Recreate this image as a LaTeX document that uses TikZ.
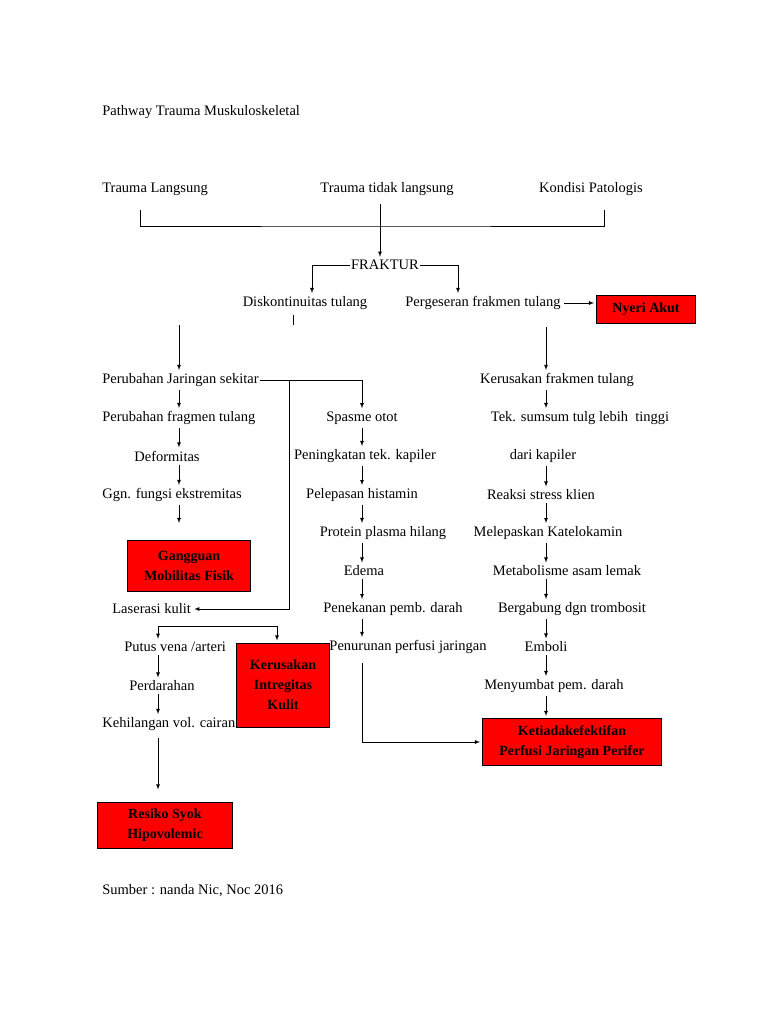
\documentclass[tikz,border=0pt]{standalone}
\usepackage{fontspec}
\setmainfont{Liberation Serif}
\usetikzlibrary{positioning}
\tikzset{every picture/.style={line width=0.75pt}}
\tikzset{
  txt/.style={inner sep=1pt, font=\fontsize{14.5}{16}\selectfont},
  dx/.style={fill=red, draw=black, line width=1pt, align=center, inner sep=2pt,
    font=\fontsize{14}{20}\selectfont\bfseries},
  arr/.style={-latex, shorten >=2pt, shorten <=2pt},
}
\begin{document}
\begin{tikzpicture}[x=1pt,y=-1pt]
\useasboundingbox (0,0) rectangle (768,1024);

% titles
\node[txt, anchor=west] (title) at (101,112) {Pathway Trauma Muskuloskeletal};
\node[txt, anchor=west] (tl) at (101,189) {Trauma Langsung};
\node[txt] (ttl) at (387,189) {Trauma tidak langsung};
\node[txt] (kp) at (591,189) {Kondisi Patologis};
\node[txt] (frak) at (385,265) {FRAKTUR};
\node[txt] (disk) at (305,303) {Diskontinuitas tulang};
\node[txt] (perg) at (483,303) {Pergeseran frakmen tulang};
\node[dx, minimum width=99, minimum height=28] (nyeri) at (646,309) {Nyeri Akut};

% left column
\node[txt, anchor=west] (pjs) at (101,380) {Perubahan Jaringan sekitar};
\node[txt, anchor=west] (pft) at (101,418) {Perubahan fragmen tulang};
\node[txt] (def) at (167,456) {Deformitas};
\node[txt, anchor=west] (ggn) at (101,495) {Ggn. fungsi ekstremitas};
\node[dx, minimum width=123, minimum height=51] (gmf) at (189,566) {Gangguan\\Mobilitas Fisik};
\node[txt, anchor=west] (las) at (111,609) {Laserasi kulit};
\node[txt, anchor=west] (putus) at (123,647) {Putus vena /arteri};
\node[txt] (perd) at (162,686) {Perdarahan};
\node[txt, anchor=west] (kvc) at (101,724) {Kehilangan vol. cairan};
\node[dx, minimum width=93, minimum height=84] (kik) at (283,685) {Kerusakan\\Intregitas\\Kulit};
\node[dx, minimum width=135, minimum height=46] (rsh) at (165,825) {Resiko Syok\\Hipovolemic};

% middle column
\node[txt] (spa) at (362,418) {Spasme otot};
\node[txt] (ptk) at (365,456) {Peningkatan tek. kapiler};
\node[txt] (phi) at (362,495) {Pelepasan histamin};
\node[txt] (pph) at (383,533) {Protein plasma hilang};
\node[txt] (ede) at (364,571) {Edema};
\node[txt] (ppd) at (393,609) {Penekanan pemb. darah};
\node[txt] (ppj) at (408,647) {Penurunan perfusi jaringan};

% right column
\node[txt] (kft) at (557,380) {Kerusakan frakmen tulang};
\node[txt] (tsl) at (580,418) {Tek. sumsum tulg lebih\ \ tinggi};
\node[txt] (dk) at (543,456) {dari kapiler};
\node[txt] (rsk) at (541,495) {Reaksi stress klien};
\node[txt] (mk) at (548,533) {Melepaskan Katelokamin};
\node[txt] (mal) at (567,571) {Metabolisme asam lemak};
\node[txt] (bdt) at (572,609) {Bergabung dgn trombosit};
\node[txt] (emb) at (546,647) {Emboli};
\node[txt] (mpd) at (554,686) {Menyumbat pem. darah};
\node[dx, minimum width=179, minimum height=47] (kpj) at (572,742) {Ketiadakefektifan\\Perfusi Jaringan Perifer};

\node[txt, anchor=west] (sbr) at (101,891) {Sumber : nanda Nic, Noc 2016};

% connectors
\coordinate (bl) at (140,210);
\coordinate (br) at (604,210);
\draw (bl) |- (380,226) -| (br);
\draw[arr, shorten <=0pt] (380,204) -- (frak.north -| 380,0);
\draw[arr, shorten <=0pt] (frak.west) -| (disk.north -| 312,0);
\draw[arr, shorten <=0pt] (frak.east) -| (perg.north -| 458,0);
\draw (293,315) -- (293,325);
\draw[arr] (perg.east) -- (perg.east -| nyeri.west);
\draw[arr] (179,323) -- (pjs.north -| 179,0);
\draw[arr] (546,325) -- (kft.north -| 546,0);

\draw[arr, shorten <=0pt] (pjs.east) -| (spa.north);
\draw[arr, shorten <=0pt] (289,380) |- (las.east);
\foreach \a/\b in {pjs/pft, pft/def, def/ggn}
  \draw[arr] (\a.south -| 179,0) -- (\b.north -| 179,0);
\draw[arr] (ggn.south -| 179,0) -- (179,525);

\coordinate (sp) at (158,626);
\draw[arr, shorten <=0pt] (sp) -- (putus.north -| 158,0);
\draw[arr, shorten <=0pt] (sp) -| (kik.north -| 277,0);
\foreach \a/\b in {putus/perd, perd/kvc}
  \draw[arr] (\a.south -| 158,0) -- (\b.north -| 158,0);
\draw[arr, shorten <=6pt, shorten >=12pt] (kvc.south -| 158,0) -- (rsh.north -| 158,0);

\foreach \a/\b in {spa/ptk, ptk/phi, phi/pph, pph/ede, ede/ppd, ppd/ppj}
  \draw[arr] (\a.south -| 362,0) -- (\b.north -| 362,0);
\draw[arr, shorten <=8pt] (ppj.south -| 362,0) |- (kpj.west);

\foreach \a/\b in {kft/tsl, dk/rsk, rsk/mk, mk/mal, mal/bdt, bdt/emb, emb/mpd, mpd/kpj}
  \draw[arr] (\a.south -| 546,0) -- (\b.north -| 546,0);
\end{tikzpicture}
\end{document}
